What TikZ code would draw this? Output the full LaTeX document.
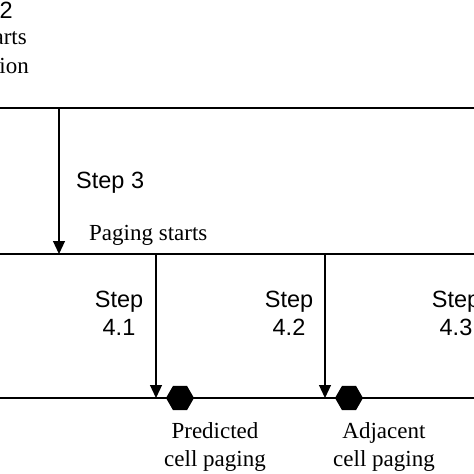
\documentclass[tikz,border=0pt]{standalone}
\usepackage{fontspec}
\setmainfont{Liberation Serif}
\newfontfamily\helv{Liberation Sans}
\usetikzlibrary{shapes.geometric,arrows.meta}
\begin{document}
\begin{tikzpicture}[x=1pt,y=-1pt,
  rule/.style={line width=1.2pt},
  drop/.style={line width=1.2pt,-{Triangle[length=13pt,width=12pt]}},
  steplabel/.style={font=\helv\fontsize{23.5}{28}\selectfont, align=center, inner sep=0pt},
  seriflabel/.style={font=\fontsize{23}{28}\selectfont, align=center, inner sep=0pt},
  hexa/.style={regular polygon, regular polygon sides=6, minimum size=28pt, inner sep=0pt, outer sep=0pt, fill=black, draw=none}]
\useasboundingbox (0,0) rectangle (474,474);
\clip (0,0) rectangle (474,474);
% horizontal time lines
\coordinate (L1w) at (0,108);   \coordinate (L1e) at (474,108);
\coordinate (L2w) at (0,254);   \coordinate (L2e) at (474,254);
\coordinate (L3w) at (0,398);   \coordinate (L3e) at (474,398);
\draw[rule] (L1w) -- (L1e);
\draw[rule] (L2w) -- (L2e);
\draw[rule] (L3w) -- (L3e);
% drops
\coordinate (d3a) at (59,108);  \coordinate (d3b) at (59,254);
\coordinate (d41a) at (156,254); \coordinate (d41b) at (156,398);
\coordinate (d42a) at (325,254); \coordinate (d42b) at (325,398);
\draw[drop] (d3a) -- (d3b);
\draw[drop] (d41a) -- (d41b);
\draw[drop] (d42a) -- (d42b);
% hexagons
\node[hexa] (h1) at (180,398) {};
\node[hexa] (h2) at (349,398) {};
% top fragments
\node[steplabel, anchor=base east] (t2) at (13,18) {2};
\node[seriflabel, anchor=base east] (t2b) at (27,44) {arts};
\node[seriflabel, anchor=base east] (t2c) at (29,73) {ion};
% labels
\node[steplabel, anchor=base west] (s3) at (76,188) {Step 3};
\node[seriflabel, anchor=base west] (ps) at (89,240) {Paging starts};
\node[steplabel, anchor=base] (s41) at (119,335) {Step\\4.1};
\node[steplabel, anchor=base] (s42) at (289,335) {Step\\4.2};
\node[steplabel, anchor=base] (s43) at (456,335) {Step\\4.3};
\node[seriflabel, anchor=base] (pc) at (215,466) {Predicted\\cell paging};
\node[seriflabel, anchor=base] (ac) at (384,466) {Adjacent\\cell paging};
\end{tikzpicture}
\end{document}
